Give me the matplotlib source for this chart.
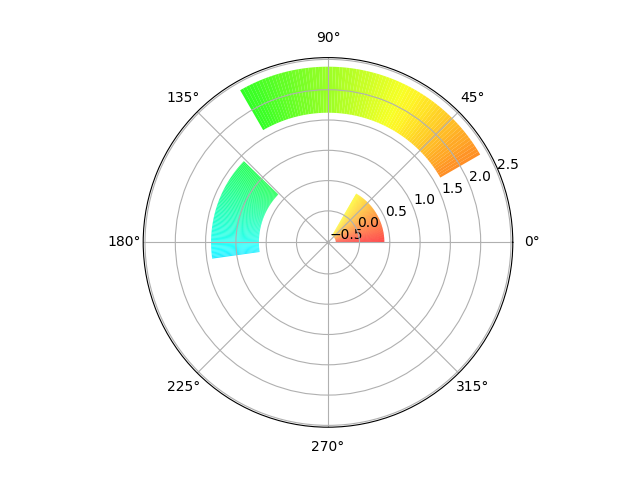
import numpy as np
import matplotlib
matplotlib.use("Agg")
import matplotlib.pyplot as plt

# wedge extents (degrees, radial units)
start_deg = [0, 30, 136]
end_deg = [60, 120, 188]
bottoms = [-0.39, 1.62, 0.62]
tops = [0.41, 2.38, 1.41]

N_SLICES = 80   # thin bars per wedge to get the colour gradient

fig = plt.figure(figsize=(6.4, 4.8), dpi=100)
ax = fig.add_subplot(projection="polar")

for a0, a1, b, t in zip(start_deg, end_deg, bottoms, tops):
    edges = np.linspace(np.radians(a0), np.radians(a1), N_SLICES + 1)
    theta = edges[:-1]
    width = edges[1] - edges[0]
    colors = plt.cm.hsv(theta / (2 * np.pi))
    ax.bar(theta, t - b, width=width, bottom=b, align="edge",
           color=colors, alpha=0.85)

# slightly padded limits: keeps the -0.5 tick and puts 2.5 ring just inside the spine
ax.set_ylim(-0.52, 2.53)

fig.savefig("out.png", dpi=100)
